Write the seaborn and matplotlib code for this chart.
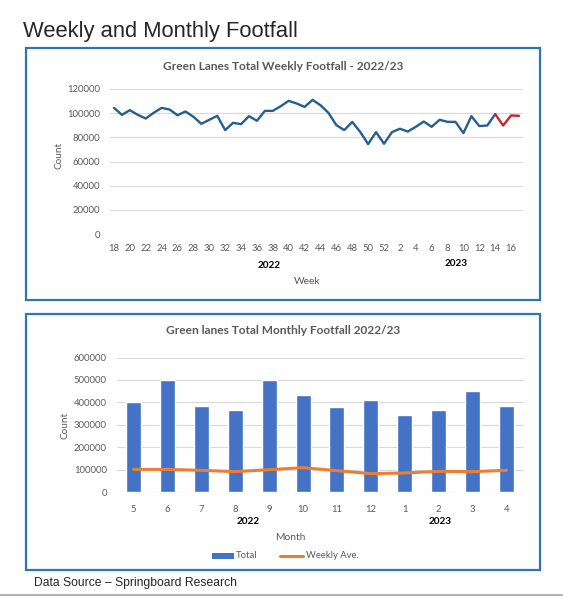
import numpy as np
import pandas as pd
import seaborn as sns
import matplotlib.pyplot as plt
from matplotlib.patches import Rectangle
from matplotlib.lines import Line2D

# ==== data
weeks = list(range(18, 53)) + list(range(1, 18))
weekly_count = [104400, 98600, 102500, 98600, 95600, 100300, 104400, 103000, 98300, 101400,
                97000, 91200, 94500, 97800, 86000, 92000, 90900, 97500, 93700, 101900,
                101900, 105800, 110200, 108000, 105200, 111000, 106600, 100300, 90100, 86000,
                92800, 84500, 74400, 84300, 74700, 84300, 87100, 84800, 88700, 93100,
                88700, 94500, 92800, 92800, 83500, 97500, 89300, 89800, 99200, 89800,
                98100, 97800]
red_from_week = 14  # last stretch drawn in red

months = ["5", "6", "7", "8", "9", "10", "11", "12", "1", "2", "3", "4"]
monthly_total = [403000, 499000, 384000, 366000, 499000, 433000, 379000, 410000,
                 344000, 367000, 450000, 384000]
weekly_ave = [102000, 102000, 97800, 91900, 100700, 109600, 96300, 83000,
              86000, 93300, 91900, 97800]

W, H = 563, 599
GREY = "#595959"
GRID = "#D9D9D9"
FONT = "Lato"

sns.set_theme(style="white")
plt.rcParams["font.family"] = [FONT, "DejaVu Sans"]

fig = plt.figure(figsize=(W / 100, H / 100), dpi=100)


def box(x0, y0, x1, y1):
    # pixel coords from top-left -> figure fraction
    return [x0 / W, 1 - y1 / H, (x1 - x0) / W, (y1 - y0) / H]


def fx(x):
    return x / W


def fy(y):
    return 1 - y / H


def style_axes(ax):
    for s in ax.spines.values():
        s.set_visible(False)
    ax.grid(axis="y", color=GRID, linewidth=0.8)
    ax.grid(axis="x", visible=False)
    ax.tick_params(length=0, labelsize=6.8, colors=GREY, pad=7)
    ax.set_axisbelow(True)


# blue frames round each chart
for y0, y1 in [(48, 300), (314, 570)]:
    fig.add_artist(Rectangle((fx(26), fy(y1)), (540 - 26) / W, (y1 - y0) / H,
                             transform=fig.transFigure, fill=False,
                             edgecolor="#2E75B6", linewidth=1.6))

# ==== weekly chart
wk = pd.DataFrame({"pos": np.arange(len(weeks)), "week": weeks, "count": weekly_count})
red_start = len(weeks) - (18 - red_from_week)

ax1 = fig.add_axes(box(110, 89, 523, 234))
sns.lineplot(data=wk.iloc[:red_start + 1], x="pos", y="count", ax=ax1,
             color="#255E91", linewidth=1.7)
sns.lineplot(data=wk.iloc[red_start:], x="pos", y="count", ax=ax1,
             color="#C0262D", linewidth=1.7)
style_axes(ax1)
ax1.set_xlim(-0.5, len(weeks) - 0.5)
ax1.set_ylim(0, 120000)
ax1.set_yticks(range(0, 120001, 20000))
ax1.set_xticks(wk["pos"][::2])
ax1.set_xticklabels(wk["week"][::2])
ax1.set_xlabel("")
ax1.set_ylabel("")

fig.text(0.5 * (fx(26) + fx(540)), fy(66), "Green Lanes Total Weekly Footfall - 2022/23",
         ha="center", va="center", fontsize=8.6, fontweight="bold", color=GREY)
fig.text(fx(59), fy(155), "Count", rotation=90, ha="center", va="center",
         fontsize=7.2, color=GREY)
fig.text(fx(269), fy(265), "2022", ha="center", va="center", fontsize=7.2,
         fontweight="bold", color="black")
fig.text(fx(456), fy(263), "2023", ha="center", va="center", fontsize=7.2,
         fontweight="bold", color="black")
fig.text(fx(307), fy(281), "Week", ha="center", va="center", fontsize=7.4, color=GREY)

# ==== monthly chart
mo = pd.DataFrame({"month": months, "total": monthly_total, "ave": weekly_ave,
                   "pos": np.arange(len(months))})

ax2 = fig.add_axes(box(116.5, 357.5, 523.5, 492.3))
sns.barplot(data=mo, x="month", y="total", order=months, ax=ax2,
            color="#4472C4", saturation=1, width=0.44)
sns.lineplot(data=mo, x="pos", y="ave", ax=ax2, color="#ED7D31", linewidth=2.2)
style_axes(ax2)
ax2.set_xlim(-0.5, len(months) - 0.5)
ax2.set_ylim(0, 600000)
ax2.set_yticks(range(0, 600001, 100000))
ax2.set_xticks(range(len(months)))
ax2.set_xticklabels(months)
ax2.tick_params(axis="x", pad=9)
ax2.set_xlabel("")
ax2.set_ylabel("")

fig.text(0.5 * (fx(26) + fx(540)), fy(331), "Green lanes Total Monthly Footfall 2022/23",
         ha="center", va="center", fontsize=8.6, fontweight="bold", color=GREY)
fig.text(fx(65), fy(425), "Count", rotation=90, ha="center", va="center",
         fontsize=7.2, color=GREY)
fig.text(fx(248), fy(522), "2022", ha="center", va="center", fontsize=7.2,
         fontweight="bold", color="black")
fig.text(fx(440), fy(522), "2023", ha="center", va="center", fontsize=7.2,
         fontweight="bold", color="black")
fig.text(fx(290), fy(538), "Month", ha="center", va="center", fontsize=7.4, color=GREY)

# legend drawn by hand under the axis title
fig.add_artist(Rectangle((fx(212), fy(559)), 22 / W, 6 / H, transform=fig.transFigure,
                         facecolor="#4472C4", edgecolor="none"))
fig.text(fx(236), fy(556), "Total", ha="left", va="center", fontsize=6.8, color=GREY)
fig.add_artist(Line2D([fx(280), fx(303)], [fy(556), fy(556)], transform=fig.transFigure,
                      color="#ED7D31", linewidth=2.2))
fig.text(fx(306), fy(556), "Weekly Ave.", ha="left", va="center", fontsize=6.8, color=GREY)

# ==== page title and footer
fig.text(fx(23), fy(32), "Weekly and Monthly Footfall", ha="left", va="center",
         fontsize=15.8, color="#262626", family=["Liberation Sans", "DejaVu Sans"])
fig.text(fx(34), fy(583), "Data Source \u2013 Springboard Research", ha="left", va="center",
         fontsize=8.7, color="#262626", family=["Liberation Sans", "DejaVu Sans"])
fig.add_artist(Line2D([0, 1], [fy(595), fy(595)], transform=fig.transFigure,
                      color="#A6A6A6", linewidth=1.2))

fig.savefig("out.png", dpi=100)
